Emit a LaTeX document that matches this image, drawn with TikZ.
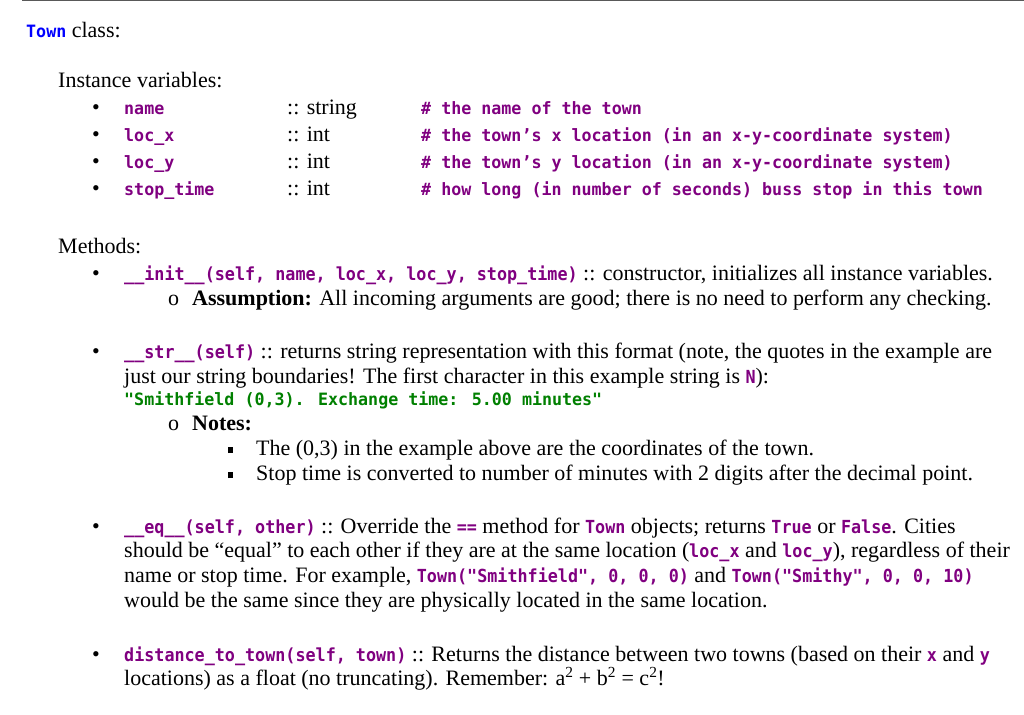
\documentclass[tikz,border=0pt]{standalone}
\usepackage{fontspec}
\setmainfont{Liberation Serif}
\newfontfamily\cmonoA{DejaVu Sans Mono}[FakeStretch=0.93]
\newfontfamily\cmonoB{DejaVu Sans Mono}[FakeStretch=0.98]
\begin{document}
\begin{tikzpicture}[x=1pt,y=-1pt,every node/.style={anchor=base west,inner sep=0pt,font=\fontsize{22}{26}\selectfont}]
\definecolor{cpurple}{RGB}{128,0,128}
\definecolor{cgreen}{RGB}{0,128,0}
\definecolor{cblue}{RGB}{0,0,255}
\newcommand\cd[1]{{\cmonoA\fontsize{18}{20}\selectfont\bfseries\color{cpurple}#1}}
\newcommand\cm[1]{{\cmonoB\fontsize{17}{20}\selectfont\bfseries\color{cpurple}#1}}
\useasboundingbox (0,0) rectangle (1024,714);
\draw[gray!70!black,line width=1.2] (22,0.6) coordinate (t0) -- (1024,0.6) coordinate (t1);
\node (title) at (26,38) {{\cmonoB\fontsize{17}{20}\selectfont\bfseries\color{cblue}Town} class:};
\node (iv) at (58,88) {Instance variables:};
\foreach \y/\n/\t/\c [count=\i] in {115/name/string/the name of the town,142/loc\_x/int/the town’s x location (in an x-y-coordinate system),168/loc\_y/int/the town’s y location (in an x-y-coordinate system),195/stop\_time/int/how long (in number of seconds) buss stop in this town}{
 \node (b\i) at (92,\y) {\textbullet};
 \node (v\i) at (124,\y) {\cm{\n}};
 \node (ty\i) at (287,\y) {:: \t};
 \node (c\i) at (421,\y) {\cm{\# \c}};
}
\node (meth) at (58,253) {Methods:};
\node (m1b) at (92,280) {\textbullet};
\node (m1) at (124,280) {\cd{\_\_init\_\_(self, name, loc\_x, loc\_y, stop\_time)} :: constructor, initializes all instance variables.};
\node (s1o) at (168,305) {o};
\node (s1) at (192,305) {\textbf{Assumption:} All incoming arguments are good; there is no need to perform any checking.};
\node (m2b) at (92,358) {\textbullet};
\node (m2) at (124,358) {\cd{\_\_str\_\_(self)} :: returns string representation with this format (note, the quotes in the example are};
\node (m2l2) at (124,383) {just our string boundaries! The first character in this example string is \cd{N}):};
\node (m2l3) at (124,405) {{\cmonoB\fontsize{17}{20}\selectfont\bfseries\color{cgreen}"Smithfield (0,3). Exchange time: 5.00 minutes"}};
\node (s2o) at (168,430) {o};
\node (s2) at (192,430) {\textbf{Notes:}};
\node (q1b) at (228,455) {\rule[2pt]{5pt}{6pt}};
\node (q1) at (256,455) {The (0,3) in the example above are the coordinates of the town.};
\node (q2b) at (228,480) {\rule[2pt]{5pt}{6pt}};
\node (q2) at (256,480) {Stop time is converted to number of minutes with 2 digits after the decimal point.};
\node (m3b) at (92,533) {\textbullet};
\node (m3) at (124,533) {\cd{\_\_eq\_\_(self, other)} :: Override the \cd{==} method for \cd{Town} objects; returns \cd{True} or \cd{False}. Cities};
\node (m3l2) at (124,557) {should be “equal” to each other if they are at the same location (\cd{loc\_x} and \cd{loc\_y}), regardless of their};
\node (m3l3) at (124,582) {name or stop time. For example, \cd{Town("Smithfield", 0, 0, 0)} and \cd{Town("Smithy", 0, 0, 10)}};
\node (m3l4) at (124,607) {would be the same since they are physically located in the same location.};
\node (m4b) at (92,661) {\textbullet};
\node (m4) at (124,661) {\cd{distance\_to\_town(self, town)} :: Returns the distance between two towns (based on their \cd{x} and \cd{y}};
\node (m4l2) at (124,685) {locations) as a float (no truncating). Remember: a\textsuperscript{2} + b\textsuperscript{2} = c\textsuperscript{2}!};
\end{tikzpicture}
\end{document}
